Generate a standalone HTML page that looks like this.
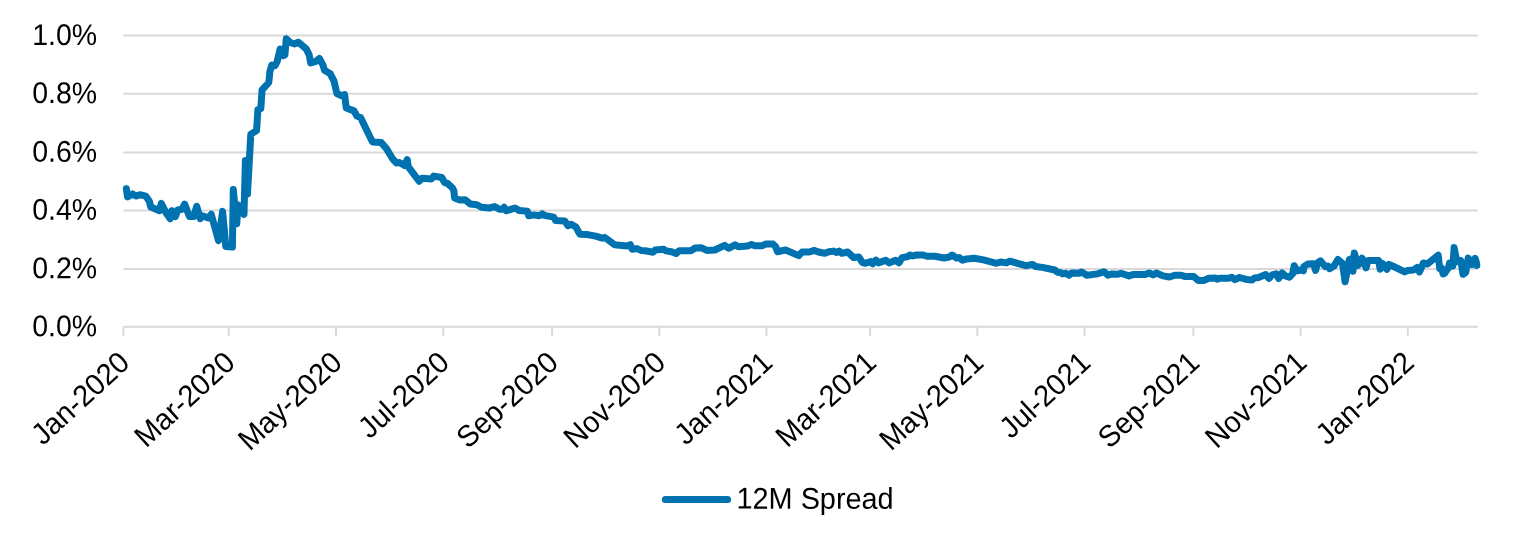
<!DOCTYPE html><html><head><meta charset="utf-8"><title>12M Spread</title><style>html,body{margin:0;padding:0;background:#fff}body{width:1536px;height:549px;overflow:hidden}svg{display:block;will-change:transform}text{font-family:"Liberation Sans",sans-serif;font-size:30px;fill:#000}</style></head><body>
<svg width="1536" height="549" viewBox="0 0 1536 549">
<rect width="1536" height="549" fill="#fff"/>
<g stroke="#d9d9d9" stroke-width="2" fill="none">
<line x1="123.4" y1="35.56" x2="1477.8" y2="35.56"/>
<line x1="123.4" y1="93.8" x2="1477.8" y2="93.8"/>
<line x1="123.4" y1="152.45" x2="1477.8" y2="152.45"/>
<line x1="123.4" y1="210.45" x2="1477.8" y2="210.45"/>
<line x1="123.4" y1="269.0" x2="1477.8" y2="269.0"/>
<line x1="123.4" y1="326.85" x2="1477.8" y2="326.85"/>
<line x1="123.4" y1="326.85" x2="123.4" y2="335.85"/>
<line x1="228.8" y1="326.85" x2="228.8" y2="335.85"/>
<line x1="336.0" y1="326.85" x2="336.0" y2="335.85"/>
<line x1="443.2" y1="326.85" x2="443.2" y2="335.85"/>
<line x1="552.1" y1="326.85" x2="552.1" y2="335.85"/>
<line x1="659.3" y1="326.85" x2="659.3" y2="335.85"/>
<line x1="766.5" y1="326.85" x2="766.5" y2="335.85"/>
<line x1="870.1" y1="326.85" x2="870.1" y2="335.85"/>
<line x1="977.3" y1="326.85" x2="977.3" y2="335.85"/>
<line x1="1084.5" y1="326.85" x2="1084.5" y2="335.85"/>
<line x1="1193.4" y1="326.85" x2="1193.4" y2="335.85"/>
<line x1="1300.6" y1="326.85" x2="1300.6" y2="335.85"/>
<line x1="1407.8" y1="326.85" x2="1407.8" y2="335.85"/>
</g>
<g text-anchor="end">
<text transform="translate(97.2 45.0) rotate(0.1) scale(0.95 1)">1.0%</text>
<text transform="translate(97.2 103.2) rotate(0.1) scale(0.95 1)">0.8%</text>
<text transform="translate(97.2 161.9) rotate(0.1) scale(0.95 1)">0.6%</text>
<text transform="translate(97.2 219.9) rotate(0.1) scale(0.95 1)">0.4%</text>
<text transform="translate(97.2 278.4) rotate(0.1) scale(0.95 1)">0.2%</text>
<text transform="translate(97.2 336.3) rotate(0.1) scale(0.95 1)">0.0%</text>
<text transform="translate(131.3 365.0) rotate(-42.6) scale(0.96 1)">Jan-2020</text>
<text transform="translate(236.7 365.0) rotate(-42.6) scale(0.96 1)">Mar-2020</text>
<text transform="translate(343.9 365.0) rotate(-42.6) scale(0.96 1)">May-2020</text>
<text transform="translate(451.1 365.0) rotate(-42.6) scale(0.96 1)">Jul-2020</text>
<text transform="translate(560.0 365.0) rotate(-42.6) scale(0.96 1)">Sep-2020</text>
<text transform="translate(667.2 365.0) rotate(-42.6) scale(0.96 1)">Nov-2020</text>
<text transform="translate(774.4 365.0) rotate(-42.6) scale(0.96 1)">Jan-2021</text>
<text transform="translate(878.0 365.0) rotate(-42.6) scale(0.96 1)">Mar-2021</text>
<text transform="translate(985.2 365.0) rotate(-42.6) scale(0.96 1)">May-2021</text>
<text transform="translate(1092.4 365.0) rotate(-42.6) scale(0.96 1)">Jul-2021</text>
<text transform="translate(1201.3 365.0) rotate(-42.6) scale(0.96 1)">Sep-2021</text>
<text transform="translate(1308.5 365.0) rotate(-42.6) scale(0.96 1)">Nov-2021</text>
<text transform="translate(1415.7 365.0) rotate(-42.6) scale(0.96 1)">Jan-2022</text>
</g>
<polyline points="126.4,188.8 127.5,196.9 132.6,193.9 136.2,196.1 139.9,194.7 145.7,196.1 149.3,201.2 150.8,207 159.5,210.7 161.3,203.4 166.1,212.9 170.2,218.7 171.9,210.7 175.5,216.5 177.7,210 182.1,209.2 184.6,204.1 189.4,216.5 193.8,216.5 196.7,206.3 200.3,218.7 202.5,215.8 208.3,218 211.2,214.3 218.5,240.6 222.6,211.4 225.8,246.4 232.4,247.1 233.3,189.6 236.7,223.8 238.2,204.9 244,214.3 245.4,160.5 247.5,194 250.8,134.2 256.6,130.6 257.9,109.5 260.8,108.7 262.1,89.8 268.8,82.5 269.9,71.6 271.8,65.1 275,65.8 277.2,61.4 280.1,49 283,55.6 284.9,54.9 286.3,38.8 290.3,42.5 294.6,43.9 298.3,42.2 306.3,49 309.2,54.9 310.7,62.9 315.8,61.4 319.4,58.5 323,65.1 324.5,70.2 330.3,73.8 334,81.1 336.9,93.5 341.3,95.7 344.6,94.6 346.3,108 354,110.9 356.9,116 360.6,117.5 368.8,134.6 372.5,141.9 381.2,142.6 386.3,148.4 392.9,159.3 396.5,163 399.4,162.5 404.5,165.5 407.2,159.6 408.2,166.6 419.1,181.2 422,178.3 431.5,179 433.7,176.1 441.7,177.5 444.6,182.6 447.5,183.4 452.5,188 453.9,190.9 454.6,198.1 459.8,200.1 465.1,199.7 470.3,204 476.9,204.7 481.5,207.3 489.3,208 494.6,206.6 499.8,209.3 502.5,209.3 504.2,207.3 506.4,210.8 514.9,208 519.5,210.6 527.4,211.2 528.7,215.8 533.9,214.9 539.2,215.8 542.5,213.9 544.4,215.4 553.6,217.1 555.6,220.4 564.8,221.1 568,225.7 571.3,224.3 575.9,227 579.8,234.2 587.7,234.6 595.6,236.1 602.1,238.1 604.8,237.5 614.6,244.7 627,246 630.3,244.7 632.3,249.3 636.9,248.6 641.5,250.6 645.2,250.7 653.1,252.2 655.1,250 663.6,249.3 666.2,250.9 671.5,251.7 676.1,253.5 679.3,250.7 691.1,250.7 695.1,248 701.6,247.8 706.9,250.4 714.8,250 724.6,245.4 728.5,248.3 735.1,244.8 738.4,246.7 747.5,246.1 751.5,244.4 754.8,245.7 762,245.7 765.9,244.1 773.1,244.1 775.7,246.7 777.4,251.7 785.6,250 798.7,255.6 802,252 809.2,252 814.4,250.4 818.4,252 824.9,253.3 828.9,251.7 833.3,251.1 836.6,252.4 839.2,251.1 841.8,253.3 847.7,252 853.6,257.6 858.9,257 862.1,262.2 864.8,263.3 870.7,261.6 872.6,263.8 875.9,260.2 878.5,262.9 885.7,260.2 889,262.9 895.6,260.2 898.9,262.9 902.1,257.6 907.4,256.7 910,255 912.6,255.9 916.6,255 923.1,255 927,256.3 934.9,256.3 944.1,258 949.3,257 952,255 956.6,258 959.2,257.6 962.5,260.2 966.4,258.9 974.3,258.3 983.4,259.9 996.6,263.3 1000.5,262 1006.4,262.9 1009.7,261.2 1017.5,263.3 1025.9,265.7 1032.5,264.4 1035.7,266.5 1042.3,267.4 1054.8,270 1057.4,272.2 1060.7,272.6 1062.6,273.9 1065.9,273.3 1069.2,275.2 1071.8,273 1079,273.3 1081.6,272 1086.9,275.2 1097.4,273.9 1103.9,271.7 1107.9,275.2 1111.8,273.9 1117,274.3 1121,273.3 1128.9,275.9 1132.8,274.6 1144.6,274.6 1149.2,273 1153.1,274.9 1156.4,273 1163,275.9 1169.5,277 1174.8,275.2 1181.3,275.2 1185.2,276.6 1193.8,276.6 1198.4,280.5 1203.6,280.5 1208.9,278.3 1215.4,277.9 1217.2,279.2 1219.8,278.3 1228.4,278.3 1231.6,277.2 1234.9,279.6 1239.5,277.5 1245.4,279.2 1252,280.1 1254.6,277.9 1258.5,277.5 1265.7,274.6 1269,278.3 1272.3,274.9 1276.2,273.9 1278.6,278.5 1282.1,273 1285.4,275.9 1289.3,277.2 1292.6,273.9 1294.2,265.7 1297.2,270.9 1301.1,270 1303.4,270.8 1303.8,266.7 1307.7,264.1 1313.6,263.8 1315.6,270.4 1317.5,262.8 1320.4,260.8 1325.4,266.7 1328,266.1 1329.6,268.7 1333.9,266.1 1337.9,259.5 1342.5,263.4 1345.1,281.8 1349.3,259.5 1351,258.9 1353,271.3 1354.3,253 1357.9,265.4 1362.1,258.2 1366.1,267.8 1368,260.4 1378.5,260.4 1380.2,269.1 1382.5,263.4 1387,269.3 1389,264.4 1393.6,266.5 1404.7,271.9 1407.7,270.4 1413.6,269.9 1417,267.5 1419.5,271.9 1423.4,263 1427.4,264 1438.2,255.2 1439.7,268.4 1441.6,268 1443.1,273.9 1444.6,273.4 1448.5,267.5 1449.5,263 1452.9,266 1454.1,247.6 1456.9,261.6 1460.8,260.6 1463,274.3 1465.7,272.4 1468.2,258.1 1472.1,264.5 1475.1,258.4 1476.4,262.5 1476.8,265.5" fill="none" stroke="#0072b0" stroke-width="7" stroke-linejoin="round" stroke-linecap="round"/>
<line x1="665.4" y1="499.5" x2="727.6" y2="499.5" stroke="#0072b0" stroke-width="7" stroke-linecap="round"/>
<text transform="translate(736.5 508.6) rotate(0.1) scale(0.962 1)">12M Spread</text>
</svg></body></html>
